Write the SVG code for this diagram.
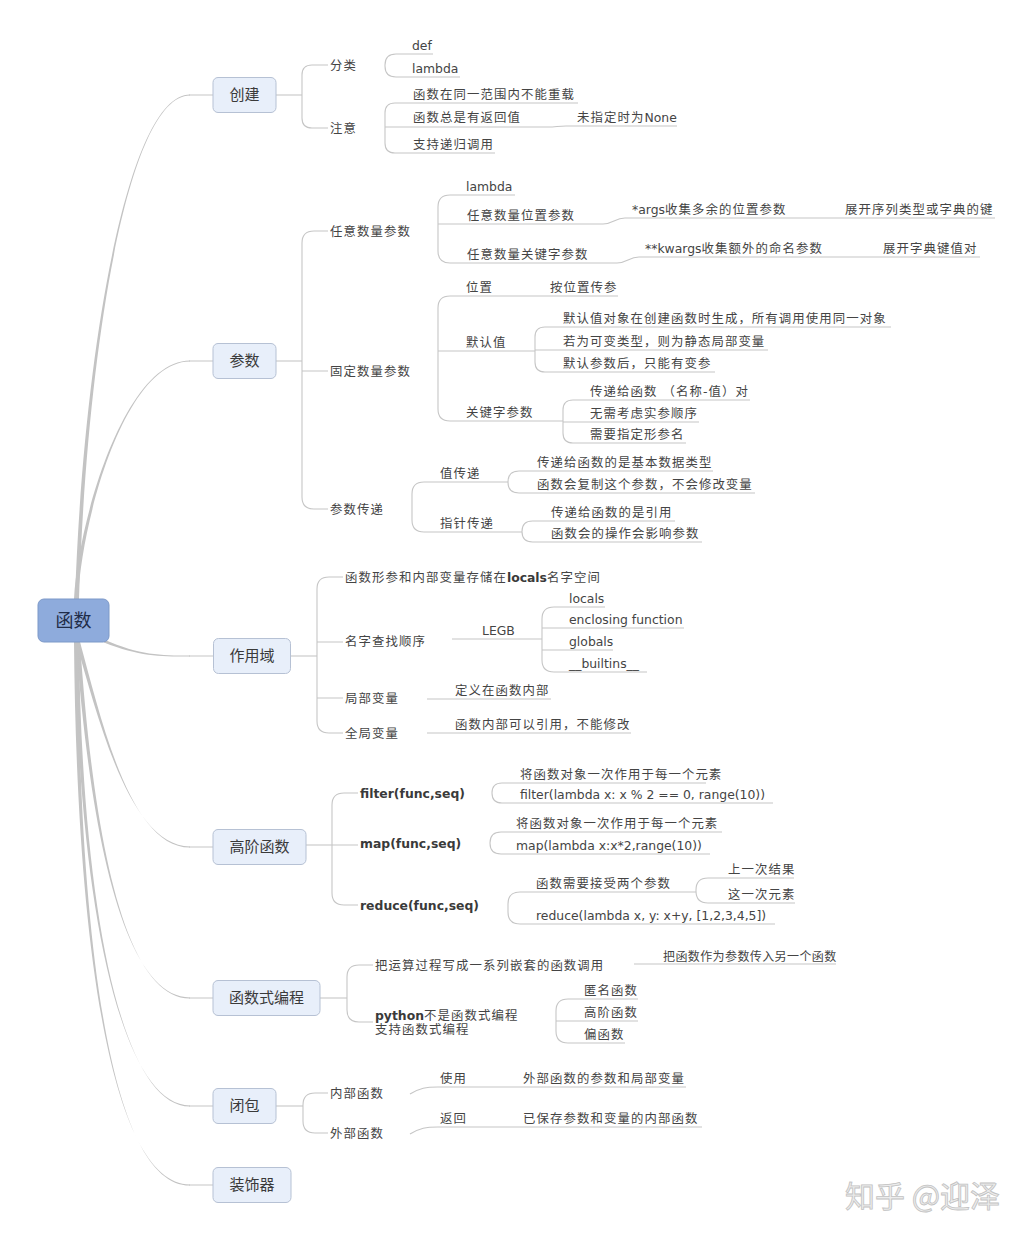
<svg xmlns="http://www.w3.org/2000/svg" width="1034" height="1242" viewBox="0 0 1034 1242">
<style>
.bg{fill:#ffffff}
.rc{fill:#c3c3c3}
.ln{fill:none;stroke:#c6c6c6;stroke-width:1.1}
.box{fill:#e8effa;stroke:#b6c1d4;stroke-width:1}
.root{fill:#8eabdc;stroke:#7d99c8;stroke-width:1}
.bt{font-family:"Noto Sans CJK SC","DejaVu Sans",sans-serif;font-size:15px;fill:#3a3a3a;text-anchor:middle}
.rt{font-family:"Noto Sans CJK SC","DejaVu Sans",sans-serif;font-size:18px;fill:#1f2c48;text-anchor:middle}
.t{font-family:"DejaVu Sans","Noto Sans CJK SC",sans-serif;font-size:12.4px;fill:#444}
.s{letter-spacing:1.1px}
.bd{font-weight:bold;fill:#3a3a3a}
.wm{font-family:"Noto Sans CJK SC",sans-serif;font-size:30px;fill:#ececec;stroke:#c2c2c2;stroke-width:0.8}
</style>
<rect class="bg" x="0" y="0" width="1034" height="1242"/>

<g id="connectors">
  <!-- root curves -->
  <path class="rc" d="M 75 599 C 83.4 350 128 94.4 190 94.4 L 190 95.6 C 128 95.6 86.6 350 79 599 Z"/>
  <path class="rc" d="M 74 599 C 78.4 520 125 360.4 190 360.4 L 190 361.6 C 125 361.6 81.6 520 78 599 Z"/>
  <path class="rc" d="M 104 639.4 C 140 655.2 160 655.4 190 655.4 L 190 656.6 C 160 656.6 140 656.8 104 642.6 Z"/>
  <path class="rc" d="M 76 642 C 98.6 720 130 846.4 190 846.4 L 190 847.6 C 130 847.6 101.4 720 80 642 Z"/>
  <path class="rc" d="M 76 642 C 90.6 840 125 997.4 190 997.4 L 190 998.6 C 125 998.6 93.4 840 80 642 Z"/>
  <path class="rc" d="M 75 642 C 78.6 900 120 1105.4 190 1105.4 L 190 1106.6 C 120 1106.6 81.4 900 79 642 Z"/>
  <path class="rc" d="M 74 642 C 76.6 950 112 1184.4 190 1184.4 L 190 1185.6 C 112 1185.6 79.4 950 78 642 Z"/>
  <path class="ln" d="M 189 95 L 213 95 M 189 361 L 213 361 M 189 656 L 214 656 M 189 847 L 213 847 M 189 998 L 213 998 M 189 1106 L 213 1106 M 189 1185 L 213 1185"/>

  <!-- 创建 -->
  <path class="ln" d="M 276 95 L 302 95"/>
  <path class="ln" d="M 328 65 L 312 65 Q 302 65 302 75 L 302 118 Q 302 128 312 128 L 328 128"/>
  <path class="ln" d="M 433 54 L 396 54 Q 385 54 385 65 L 385 66 Q 385 77 396 77 L 460 77"/>
  <path class="ln" d="M 578 103 L 395 103 Q 385 103 385 113 L 385 143 Q 385 153 395 153 L 495 153"/>
  <path class="ln" d="M 385 127 L 548 127 C 556 127 558 126 566 126 L 677 126"/>

  <!-- 参数 -->
  <path class="ln" d="M 276 361 L 302 361"/>
  <path class="ln" d="M 328 231 L 314 231 Q 302 231 302 243 L 302 497 Q 302 509 314 509 L 328 509 M 302 371 L 328 371"/>
  <path class="ln" d="M 515 195 L 450 195 Q 438 195 438 207 L 438 251 Q 438 263 450 263 L 617 263 C 627 263 629 257 639 257 L 980 257"/>
  <path class="ln" d="M 438 224 L 603 224 C 613 224 615 218 625 218 L 995 218"/>
  <path class="ln" d="M 618 296 L 450 296 Q 438 296 438 308 L 438 409 Q 438 421 450 421 L 563 421 M 438 351 L 535 351"/>
  <path class="ln" d="M 891 327 L 545 327 Q 535 327 535 337 L 535 362 Q 535 372 545 372 L 715 372 M 535 350 L 768 350"/>
  <path class="ln" d="M 750 400 L 573 400 Q 563 400 563 410 L 563 433 Q 563 443 573 443 L 686 443 M 563 422 L 699 422"/>
  <path class="ln" d="M 508 482 L 424 482 Q 412 482 412 494 L 412 520 Q 412 532 424 532 L 522 532"/>
  <path class="ln" d="M 713 471 L 519 471 Q 508 471 508 482 Q 508 493 519 493 L 755 493"/>
  <path class="ln" d="M 675 521 L 532.5 521 Q 522 521 522 531.5 Q 522 542 532.5 542 L 702 542"/>

  <!-- 作用域 -->
  <path class="ln" d="M 291 656 L 317 656"/>
  <path class="ln" d="M 343 577 L 329 577 Q 317 577 317 589 L 317 721 Q 317 733 329 733 L 343 733 M 317 642 L 343 642 M 317 698 L 343 698"/>
  <path class="ln" d="M 452 639 L 542 639"/>
  <path class="ln" d="M 605 607 L 554 607 Q 542 607 542 619 L 542 660 Q 542 672 554 672 L 647 672 M 542 628 L 684 628 M 542 650 L 613 650"/>
  <path class="ln" d="M 427 699 L 551 699 M 427 733 L 631 733"/>

  <!-- 高阶函数 -->
  <path class="ln" d="M 306 845 L 332 845"/>
  <path class="ln" d="M 358 793 L 344 793 Q 332 793 332 805 L 332 893 Q 332 905 344 905 L 358 905 M 332 845 L 358 845"/>
  <path class="ln" d="M 706 783 L 502 783 Q 492 783 492 793 Q 492 803 502 803 L 773 803"/>
  <path class="ln" d="M 722 832 L 501 832 Q 490 832 490 843 Q 490 854 501 854 L 710 854"/>
  <path class="ln" d="M 696 892 L 520 892 Q 508 892 508 904 L 508 912 Q 508 924 520 924 L 775 924"/>
  <path class="ln" d="M 794 878 L 708 878 Q 696 878 696 890 L 696 891 Q 696 903 708 903 L 795 903"/>

  <!-- 函数式编程 -->
  <path class="ln" d="M 320 998 L 347 998"/>
  <path class="ln" d="M 373 965 L 359 965 Q 347 965 347 977 L 347 1010 Q 347 1022 359 1022 L 373 1022"/>
  <path class="ln" d="M 634 964 L 836 964"/>
  <path class="ln" d="M 638 999 L 568 999 Q 556 999 556 1011 L 556 1031 Q 556 1043 568 1043 L 625 1043 M 556 1021 L 638 1021"/>

  <!-- 闭包 -->
  <path class="ln" d="M 276 1106 L 303 1106"/>
  <path class="ln" d="M 328 1093 L 315 1093 Q 303 1093 303 1105 L 303 1121 Q 303 1133 315 1133 L 328 1133"/>
  <path class="ln" d="M 410 1094 C 420 1088 426 1087 438 1087 L 686 1087"/>
  <path class="ln" d="M 410 1134 C 420 1128 426 1127 438 1127 L 702 1127"/>
</g>

<!-- root -->
<g id="n-root">
  <rect class="root" x="38" y="599" width="71" height="43" rx="6"/>
  <text class="rt" x="73.5" y="627">函数</text>
</g>

<!-- main branches -->
<g id="n-chuangjian"><rect class="box" x="213" y="77.5" width="63" height="35" rx="5"/><text class="bt" x="244.5" y="100">创建</text></g>
<g id="n-canshu"><rect class="box" x="213" y="343.5" width="63" height="35" rx="5"/><text class="bt" x="244.5" y="366">参数</text></g>
<g id="n-zuoyongyu"><rect class="box" x="213.5" y="638.5" width="77" height="35" rx="5"/><text class="bt" x="252" y="661">作用域</text></g>
<g id="n-gaojie"><rect class="box" x="213" y="829.5" width="93" height="35" rx="5"/><text class="bt" x="259.5" y="852">高阶函数</text></g>
<g id="n-hanshushi"><rect class="box" x="213" y="980.5" width="107" height="35" rx="5"/><text class="bt" x="266.5" y="1003">函数式编程</text></g>
<g id="n-bibao"><rect class="box" x="213" y="1088.5" width="63" height="35" rx="5"/><text class="bt" x="244.5" y="1111">闭包</text></g>
<g id="n-zhuangshi"><rect class="box" x="213" y="1167.5" width="78" height="35" rx="5"/><text class="bt" x="252" y="1190">装饰器</text></g>

<!-- 创建 children -->
<g id="n-fenlei"><text class="t s" x="330" y="69.5">分类</text></g>
<g id="n-zhuyi"><text class="t s" x="330" y="132.5">注意</text></g>
<g id="n-def"><text class="t" x="412" y="50">def</text></g>
<g id="n-lambda1"><text class="t" x="412" y="73">lambda</text></g>
<g id="n-cz1"><text class="t s" x="413" y="99">函数在同一范围内不能重载</text></g>
<g id="n-cz2"><text class="t s" x="413" y="122">函数总是有返回值</text></g>
<g id="n-cz2a"><text class="t" x="577" y="122"><tspan class="s">未指定时为</tspan>None</text></g>
<g id="n-cz3"><text class="t s" x="413" y="149">支持递归调用</text></g>

<!-- 参数 children -->
<g id="n-renyi"><text class="t s" x="330" y="235.5">任意数量参数</text></g>
<g id="n-guding"><text class="t s" x="330" y="375.5">固定数量参数</text></g>
<g id="n-chuandi"><text class="t s" x="330" y="513.5">参数传递</text></g>
<g id="n-lambda2"><text class="t" x="466" y="191">lambda</text></g>
<g id="n-weizhi-any"><text class="t s" x="467" y="220">任意数量位置参数</text></g>
<g id="n-args"><text class="t" x="632" y="214">*args<tspan class="s">收集多余的位置参数</tspan></text></g>
<g id="n-args2"><text class="t s" x="845" y="214">展开序列类型或字典的键</text></g>
<g id="n-kw-any"><text class="t s" x="467" y="259">任意数量关键字参数</text></g>
<g id="n-kwargs"><text class="t" x="645" y="253">**kwargs<tspan class="s">收集额外的命名参数</tspan></text></g>
<g id="n-kwargs2"><text class="t s" x="883" y="253">展开字典键值对</text></g>
<g id="n-weizhi"><text class="t s" x="466" y="292">位置</text></g>
<g id="n-weizhi2"><text class="t s" x="550" y="292">按位置传参</text></g>
<g id="n-moren"><text class="t s" x="466" y="347">默认值</text></g>
<g id="n-moren1"><text class="t s" x="563" y="323">默认值对象在创建函数时生成，所有调用使用同一对象</text></g>
<g id="n-moren2"><text class="t s" x="563" y="346">若为可变类型，则为静态局部变量</text></g>
<g id="n-moren3"><text class="t s" x="563" y="368">默认参数后，只能有变参</text></g>
<g id="n-guanjian"><text class="t s" x="466" y="417">关键字参数</text></g>
<g id="n-gj1"><text class="t s" x="590" y="396">传递给函数 （名称-值）对</text></g>
<g id="n-gj2"><text class="t s" x="590" y="418">无需考虑实参顺序</text></g>
<g id="n-gj3"><text class="t s" x="590" y="439">需要指定形参名</text></g>
<g id="n-zhi"><text class="t s" x="440" y="478">值传递</text></g>
<g id="n-zhi1"><text class="t s" x="537" y="467">传递给函数的是基本数据类型</text></g>
<g id="n-zhi2"><text class="t s" x="537" y="489">函数会复制这个参数，不会修改变量</text></g>
<g id="n-zhizhen"><text class="t s" x="440" y="528">指针传递</text></g>
<g id="n-zz1"><text class="t s" x="551" y="517">传递给函数的是引用</text></g>
<g id="n-zz2"><text class="t s" x="551" y="538">函数会的操作会影响参数</text></g>

<!-- 作用域 children -->
<g id="n-zy1"><text class="t" x="345" y="581.5"><tspan class="s">函数形参和内部变量存储在</tspan><tspan class="bd">locals</tspan><tspan class="s">名字空间</tspan></text></g>
<g id="n-zy2"><text class="t s" x="345" y="646">名字查找顺序</text></g>
<g id="n-legb"><text class="t" x="482" y="635">LEGB</text></g>
<g id="n-locals"><text class="t" x="569" y="603">locals</text></g>
<g id="n-enclosing"><text class="t" x="569" y="624">enclosing function</text></g>
<g id="n-globals"><text class="t" x="569" y="646">globals</text></g>
<g id="n-builtins"><text class="t" x="569" y="668">__builtins__</text></g>
<g id="n-zy3"><text class="t s" x="345" y="702.5">局部变量</text></g>
<g id="n-zy3a"><text class="t s" x="455" y="695">定义在函数内部</text></g>
<g id="n-zy4"><text class="t s" x="345" y="737.5">全局变量</text></g>
<g id="n-zy4a"><text class="t s" x="455" y="729">函数内部可以引用，不能修改</text></g>

<!-- 高阶函数 children -->
<g id="n-filter"><text class="t bd" x="360" y="797.5">filter(func,seq)</text></g>
<g id="n-map"><text class="t bd" x="360" y="847.5">map(func,seq)</text></g>
<g id="n-reduce"><text class="t bd" x="360" y="909.5">reduce(func,seq)</text></g>
<g id="n-f1"><text class="t s" x="520" y="779">将函数对象一次作用于每一个元素</text></g>
<g id="n-f2"><text class="t" x="520" y="799">filter(lambda x: x % 2 == 0, range(10))</text></g>
<g id="n-m1"><text class="t s" x="516" y="828">将函数对象一次作用于每一个元素</text></g>
<g id="n-m2"><text class="t" x="516" y="850">map(lambda x:x*2,range(10))</text></g>
<g id="n-r1"><text class="t s" x="536" y="888">函数需要接受两个参数</text></g>
<g id="n-r1a"><text class="t s" x="728" y="874">上一次结果</text></g>
<g id="n-r1b"><text class="t s" x="728" y="899">这一次元素</text></g>
<g id="n-r2"><text class="t" x="536" y="920">reduce(lambda x, y: x+y, [1,2,3,4,5])</text></g>

<!-- 函数式编程 children -->
<g id="n-fp1"><text class="t s" x="375" y="969.5">把运算过程写成一系列嵌套的函数调用</text></g>
<g id="n-fp1a"><text class="t" x="663" y="961" style="font-size:12px;letter-spacing:0.4px">把函数作为参数传入另一个函数</text></g>
<g id="n-fp2"><text class="t" x="375" y="1019.5"><tspan class="bd">python</tspan><tspan class="s">不是函数式编程</tspan><tspan class="s" x="375" y="1033.5">支持函数式编程</tspan></text></g>
<g id="n-fp2a"><text class="t s" x="584" y="995">匿名函数</text></g>
<g id="n-fp2b"><text class="t s" x="584" y="1017">高阶函数</text></g>
<g id="n-fp2c"><text class="t s" x="584" y="1039">偏函数</text></g>

<!-- 闭包 children -->
<g id="n-bb1"><text class="t s" x="330" y="1097.5">内部函数</text></g>
<g id="n-bb1a"><text class="t s" x="440" y="1083">使用</text></g>
<g id="n-bb1b"><text class="t s" x="523" y="1083">外部函数的参数和局部变量</text></g>
<g id="n-bb2"><text class="t s" x="330" y="1137.5">外部函数</text></g>
<g id="n-bb2a"><text class="t s" x="440" y="1123">返回</text></g>
<g id="n-bb2b"><text class="t s" x="523" y="1123">已保存参数和变量的内部函数</text></g>

<text class="wm" x="845" y="1207">知乎 @迎泽</text>
</svg>
